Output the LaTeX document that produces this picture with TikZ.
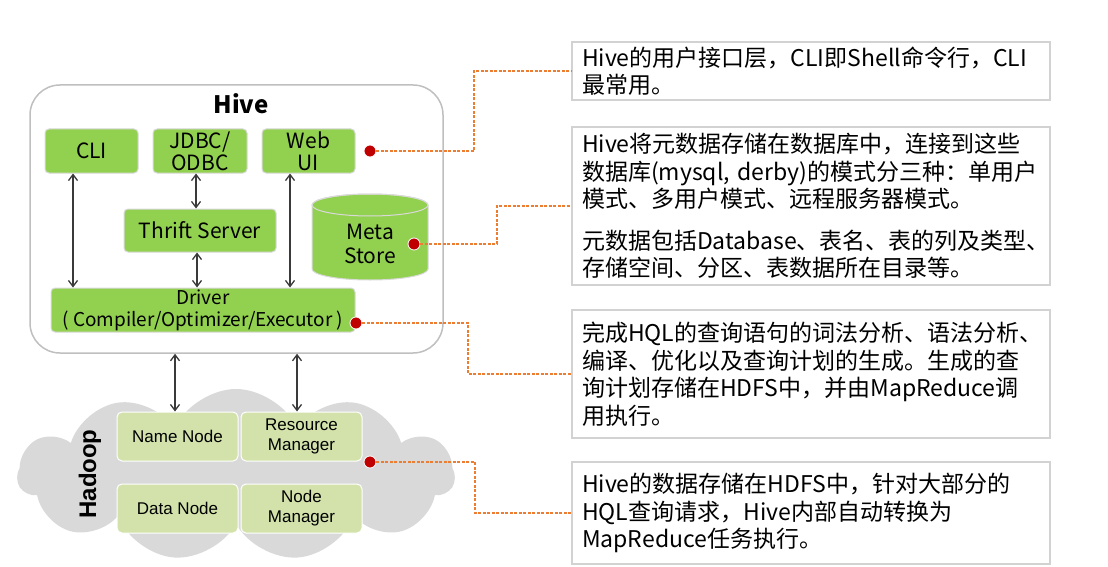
\documentclass[tikz,border=0pt]{standalone}
\usepackage{fontspec}
\setmainfont{Noto Sans CJK SC}
\newfontfamily\arialfont{Liberation Sans}
\usetikzlibrary{arrows.meta}
\usetikzlibrary{positioning}
\usetikzlibrary{shapes.symbols}

\definecolor{hivegreen}{HTML}{92D050}
\definecolor{hdpgreen}{HTML}{D2E2AA}
\definecolor{cloudgray}{HTML}{D9D9D9}
\definecolor{framegray}{HTML}{BFBFBF}
\definecolor{dotred}{HTML}{C00000}
\definecolor{calloutorange}{HTML}{ED7D31}
\definecolor{arrowgray}{HTML}{3A3A3A}

\tikzset{
  hivecomp/.style={rectangle, rounded corners=4pt, fill=hivegreen, draw=white!85!black, line width=1pt, inner sep=0pt, align=center, font=\fontsize{21}{22}\selectfont},
  hdpcomp/.style={rectangle, rounded corners=5pt, fill=hdpgreen, draw=white, line width=1pt, minimum width=121pt, minimum height=49pt, inner sep=0pt, align=center, font=\arialfont\fontsize{17}{20}\selectfont},
  notebox/.style={rectangle, draw=framegray!70, line width=2pt, minimum width=478pt, text width=458pt, inner xsep=10pt, align=left, font=\fontsize{23}{27.5}\selectfont},
  reddot/.style={circle, fill=dotred, draw=white, line width=0.8pt, minimum size=12pt, inner sep=0pt},
  biarrow/.style={{Straight Barb[length=6pt,width=9pt]}-{Straight Barb[length=6pt,width=9pt]}, draw=arrowgray, line width=1.3pt},
  callout/.style={draw=calloutorange, line width=1.3pt, dash pattern=on 3pt off 1.5pt}
}

\begin{document}
\begin{tikzpicture}[x=1pt, y=-1pt]
\useasboundingbox (0,0) rectangle (1108,567);

% Hadoop cloud
\node [cloud, cloud puffs=11, cloud puff arc=130, cloud ignores aspect, fill=cloudgray, draw=none, minimum width=437pt, minimum height=172pt] (hadoop) at (236,475) {};
\node [hdpcomp] (nn) at (177.5,436.5) {Name Node};
\node [hdpcomp] (rm) at (301.5,436.5) {Resource\\Manager};
\node [hdpcomp] (dn) at (177.5,508.5) {Data Node};
\node [hdpcomp] (nm) at (301.5,508.5) {Node\\Manager};
\node [rotate=90, font=\arialfont\bfseries\fontsize{24}{24}\selectfont] (hdplabel) at (90,474) {Hadoop};

% Hive frame
\node [draw=framegray, line width=1.5pt, rounded corners=30pt, minimum width=413pt, minimum height=268pt] (hive) at (236.5,219) {};
\node [font=\bfseries\fontsize{24}{24}\selectfont] (hivetitle) at (241,104) {Hive};
\node [hivecomp, minimum width=93pt, minimum height=44pt] (cli) at (91.5,151) {CLI};
\node [hivecomp, minimum width=94pt, minimum height=44pt] (jdbc) at (200,151) {JDBC/\\ODBC};
\node [hivecomp, minimum width=93pt, minimum height=44pt] (webui) at (308.5,151) {Web\\UI};
\node [hivecomp, minimum width=152pt, minimum height=43pt] (thrift) at (200,230.5) {Thrift Server};
\node [hivecomp, minimum width=304pt, minimum height=44pt, font=\fontsize{19}{22}\selectfont] (drv) at (203,310) {Driver\\( Compiler/Optimizer/Executor )};

% metastore cylinder
\filldraw [fill=hivegreen, draw=white!85!black, line width=1pt] (312,205) -- (312,269) arc[start angle=180, end angle=360, x radius=58pt, y radius=11pt] -- (428,205) arc[start angle=0, end angle=180, x radius=58pt, y radius=11pt] -- cycle;
\draw [draw=white!85!black, line width=1pt] (370,205) ellipse[x radius=58pt, y radius=11pt];
\node [align=center, font=\fontsize{21}{24}\selectfont] (meta) at (370,244) {Meta\\Store};

% arrows
\coordinate (xcli) at (73,0);
\coordinate (xjdbc) at (196,0);
\coordinate (xthrift) at (197,0);
\coordinate (xweb) at (290,0);
\coordinate (xnn) at (175,0);
\coordinate (xrm) at (297,0);
\draw [biarrow] (cli.south -| xcli) -- (drv.north -| xcli);
\draw [biarrow] (jdbc.south -| xjdbc) -- (thrift.north -| xjdbc);
\draw [biarrow] (thrift.south -| xthrift) -- (drv.north -| xthrift);
\draw [biarrow] (webui.south -| xweb) -- (drv.north -| xweb);
\draw [biarrow] (hive.south -| xnn) -- (nn.north -| xnn);
\draw [biarrow] (hive.south -| xrm) -- (rm.north -| xrm);

% notes
\node [notebox, minimum height=58pt] (note1) at (811,71) {Hive的用户接口层，CLI即Shell命令行，CLI\\最常用。};
\node [notebox, minimum height=158pt] (note2) at (811,206) {Hive将元数据存储在数据库中，连接到这些\\数据库(mysql, derby)的模式分三种：单用户\\模式、多用户模式、远程服务器模式。\\[14pt]元数据包括Database、表名、表的列及类型、\\存储空间、分区、表数据所在目录等。};
\node [notebox, minimum height=128pt] (note3) at (811,374) {完成HQL的查询语句的词法分析、语法分析、\\编译、优化以及查询计划的生成。生成的查\\询计划存储在HDFS中，并由MapReduce调\\用执行。};
\node [notebox, minimum height=102pt] (note4) at (811,513) {Hive的数据存储在HDFS中，针对大部分的\\HQL查询请求，Hive内部自动转换为\\MapReduce任务执行。};

% callouts
\node [reddot] (dotweb) at (370,151) {};
\node [reddot] (dotmeta) at (414,244) {};
\node [reddot] (dotdrv) at (356,323) {};
\node [reddot] (dotrm) at (370,462) {};
\draw [callout] (dotweb) -- (474,151) |- (note1);
\draw [callout] (dotmeta) -- (497,244) |- (note2);
\draw [callout] (dotdrv) -- (468,323) |- (note3);
\draw [callout] (dotrm) -- (475,462) |- (note4);
\end{tikzpicture}
\end{document}
